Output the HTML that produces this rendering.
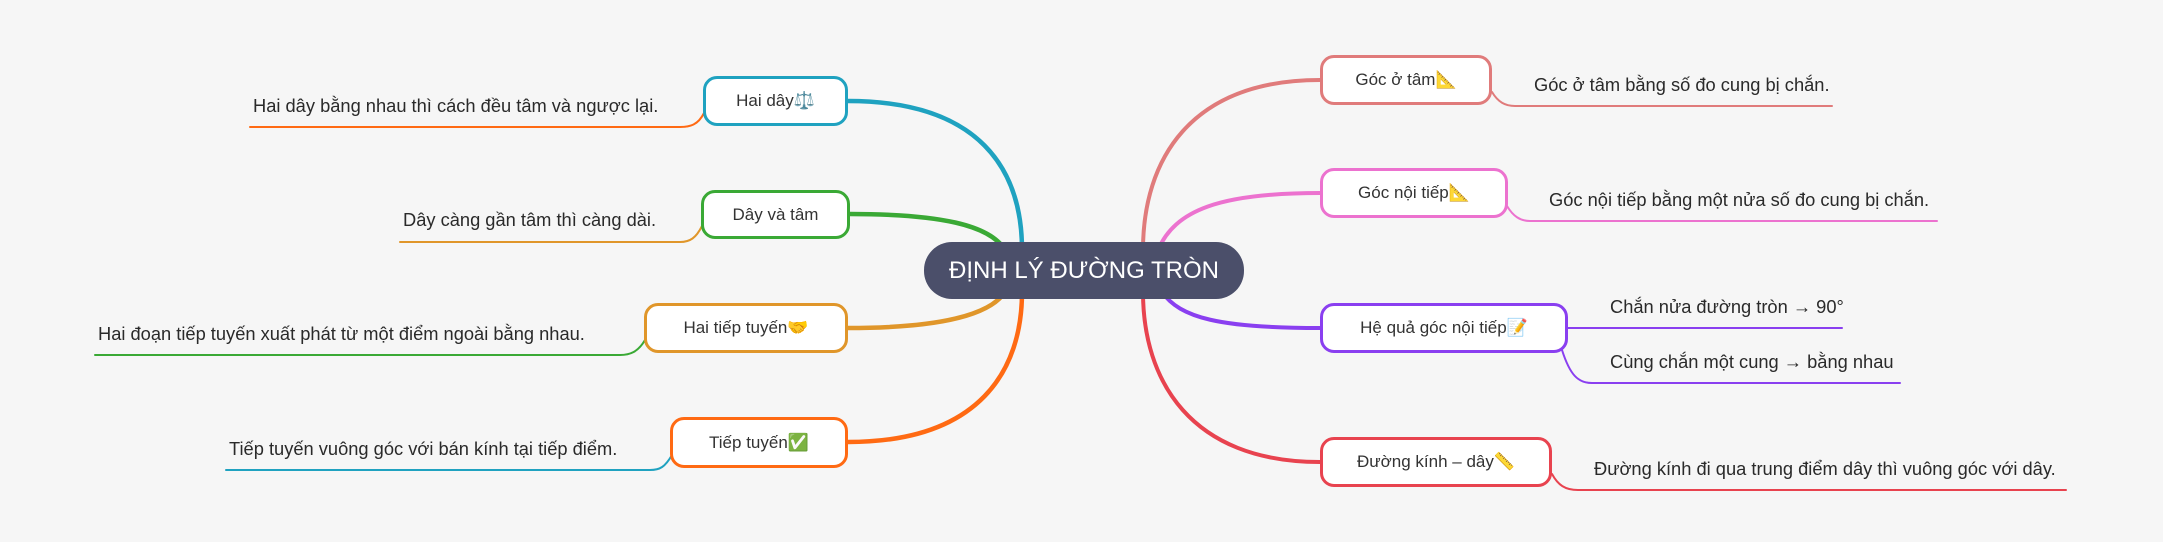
<!DOCTYPE html>
<html><head><meta charset="utf-8"><style>
body{margin:0;width:2163px;height:542px;background:#f6f6f6;position:relative;overflow:hidden;font-family:"Liberation Sans","DejaVu Sans",sans-serif;}
.n{position:absolute;box-sizing:border-box;background:#fff;border:3px solid;border-radius:14px;display:flex;align-items:center;justify-content:center;font-size:17px;color:#333;white-space:nowrap;}
.t{position:absolute;font-size:18.3px;color:#2a2a2a;white-space:nowrap;}
.c{position:absolute;left:924px;top:242px;width:320px;height:57px;border-radius:28px;background:#4b4f6a;color:#fff;font-size:24px;display:flex;align-items:center;justify-content:center;}
</style></head><body>
<svg width="2163" height="542" style="position:absolute;left:0;top:0" fill="none" stroke-linecap="round">
<path d="M848,101 C980,101 1022,170 1022,250" stroke="#1fa2c0" stroke-width="4.5"/>
<path d="M850,214 C940,214 990,225 1005,250" stroke="#3aa935" stroke-width="4.5"/>
<path d="M848,328 C940,328 990,315 1005,292" stroke="#e0962a" stroke-width="4.5"/>
<path d="M848,442 C980,442 1022,370 1022,292" stroke="#ff6a13" stroke-width="4.5"/>
<path d="M1320,80 C1190,80 1143,160 1143,250" stroke="#e07b7b" stroke-width="4"/>
<path d="M1320,193 C1220,193 1175,210 1158,250" stroke="#ec72cf" stroke-width="4"/>
<path d="M1320,328 C1220,328 1180,318 1162,292" stroke="#8a3ff0" stroke-width="4"/>
<path d="M1320,462 C1190,462 1143,380 1143,292" stroke="#e8434f" stroke-width="4"/>
<path d="M704,113 C698,125 690,127 680,127 L250,127" stroke="#ff6a13" stroke-width="2"/>
<path d="M702,226 C696,238 690,242 680,242 L400,242" stroke="#e0962a" stroke-width="2"/>
<path d="M645,340 C638,352 630,355 620,355 L95,355" stroke="#3aa935" stroke-width="2"/>
<path d="M672,455 C665,467 660,470 650,470 L226,470" stroke="#1fa2c0" stroke-width="2"/>
<path d="M1492,92 C1498,102 1505,106 1515,106 L1832,106" stroke="#e07b7b" stroke-width="2"/>
<path d="M1507,206 C1513,216 1520,221 1530,221 L1937,221" stroke="#ec72cf" stroke-width="2"/>
<path d="M1568,328 L1842,328" stroke="#8a3ff0" stroke-width="2"/>
<path d="M1562,350 C1570,375 1578,383 1592,383 L1900,383" stroke="#8a3ff0" stroke-width="2"/>
<path d="M1552,474 C1558,485 1565,490 1578,490 L2066,490" stroke="#e8434f" stroke-width="2"/>
</svg>
<div class="c">ĐỊNH LÝ ĐƯỜNG TRÒN</div>
<div class="n" style="left:703px;top:76px;width:145px;height:50px;border-color:#1fa2c0">Hai dây⚖️</div>
<div class="n" style="left:701px;top:190px;width:149px;height:49px;border-color:#3aa935">Dây và tâm</div>
<div class="n" style="left:644px;top:303px;width:204px;height:50px;border-color:#e0962a">Hai tiếp tuyến🤝</div>
<div class="n" style="left:670px;top:417px;width:178px;height:51px;border-color:#ff6a13">Tiếp tuyến✅</div>
<div class="n" style="left:1320px;top:55px;width:172px;height:50px;border-color:#e07b7b">Góc ở tâm📐</div>
<div class="n" style="left:1320px;top:168px;width:188px;height:50px;border-color:#ec72cf">Góc nội tiếp📐</div>
<div class="n" style="left:1320px;top:303px;width:248px;height:50px;border-color:#8a3ff0">Hệ quả góc nội tiếp📝</div>
<div class="n" style="left:1320px;top:437px;width:232px;height:50px;border-color:#e8434f">Đường kính – dây📏</div>
<div class="t" style="left:253px;top:95px">Hai dây bằng nhau thì cách đều tâm và ngược lại.</div>
<div class="t" style="left:403px;top:209px">Dây càng gần tâm thì càng dài.</div>
<div class="t" style="left:98px;top:323px">Hai đoạn tiếp tuyến xuất phát từ một điểm ngoài bằng nhau.</div>
<div class="t" style="left:229px;top:438px">Tiếp tuyến vuông góc với bán kính tại tiếp điểm.</div>
<div class="t" style="left:1534px;top:74px">Góc ở tâm bằng số đo cung bị chắn.</div>
<div class="t" style="left:1549px;top:189px">Góc nội tiếp bằng một nửa số đo cung bị chắn.</div>
<div class="t" style="left:1610px;top:296px">Chắn nửa đường tròn → 90°</div>
<div class="t" style="left:1610px;top:351px">Cùng chắn một cung → bằng nhau</div>
<div class="t" style="left:1594px;top:458px">Đường kính đi qua trung điểm dây thì vuông góc với dây.</div>
</body></html>
